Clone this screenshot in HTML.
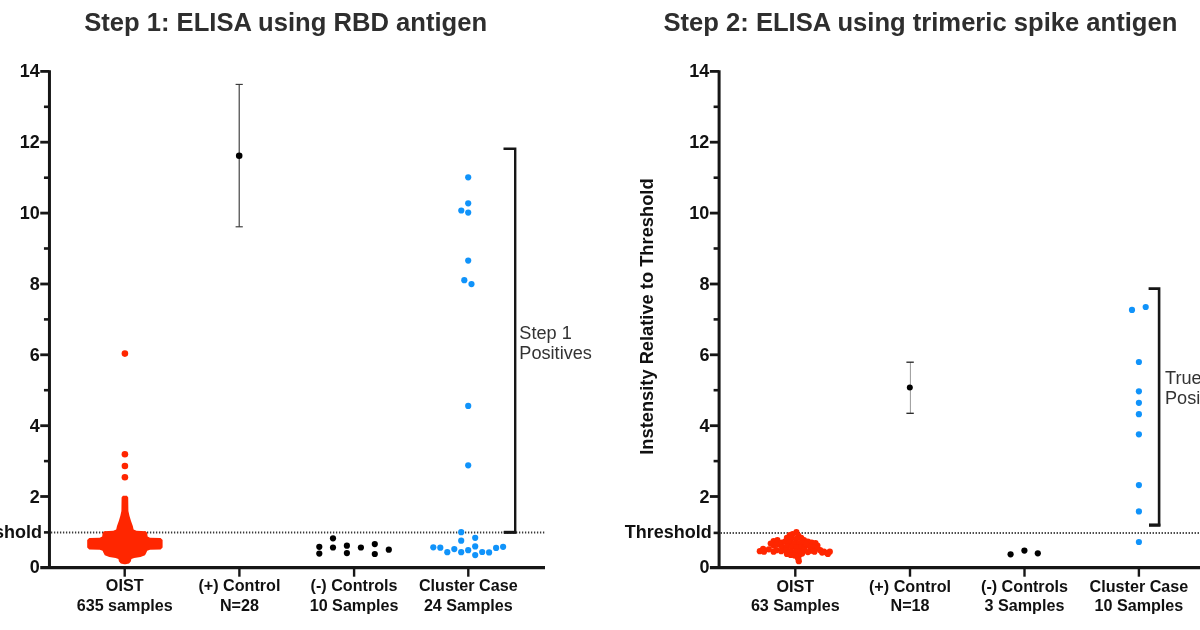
<!DOCTYPE html>
<html lang="en"><head><meta charset="utf-8"><title>ELISA two-step antibody test</title>
<style>html,body{margin:0;padding:0;background:#fff}body{width:1200px;height:630px;overflow:hidden}svg{display:block;will-change:transform;filter:blur(.45px)}text{font-family:"Liberation Sans",sans-serif}.t{font-weight:700;font-size:25.6px;fill:#2e2e2e;text-anchor:middle}.n{font-weight:700;font-size:18px;fill:#111;text-anchor:end}.c{font-weight:700;font-size:16.15px;fill:#111;text-anchor:middle}.a{font-size:18.15px;fill:#333}.yl{font-weight:700;font-size:18.3px;fill:#111;text-anchor:middle}</style></head><body>
<svg width="1200" height="630" viewBox="0 0 1200 630">
<rect width="1200" height="630" fill="#fff"/>
<text class="t" x="285.6" y="31.3">Step 1: ELISA using RBD antigen</text>
<text class="t" x="920.4" y="31.2">Step 2: ELISA using trimeric spike antigen</text>
<line x1="50.95" y1="532.4" x2="545" y2="532.4" stroke="#3a3a3a" stroke-width="2" stroke-dasharray="1.3 1.7"/>
<line x1="49.45" y1="70.2" x2="49.45" y2="568.7" stroke="#161616" stroke-width="3"/>
<line x1="40.25" y1="567.6" x2="545" y2="567.6" stroke="#161616" stroke-width="3.1"/>
<line x1="43.95" y1="532.4" x2="49.45" y2="532.4" stroke="#161616" stroke-width="2.6"/>
<line x1="40.25" y1="496.5" x2="49.45" y2="496.5" stroke="#161616" stroke-width="2.8"/>
<line x1="43.95" y1="461.1" x2="49.45" y2="461.1" stroke="#161616" stroke-width="2.6"/>
<line x1="40.25" y1="425.7" x2="49.45" y2="425.7" stroke="#161616" stroke-width="2.8"/>
<line x1="43.95" y1="390.2" x2="49.45" y2="390.2" stroke="#161616" stroke-width="2.6"/>
<line x1="40.25" y1="354.8" x2="49.45" y2="354.8" stroke="#161616" stroke-width="2.8"/>
<line x1="43.95" y1="319.4" x2="49.45" y2="319.4" stroke="#161616" stroke-width="2.6"/>
<line x1="40.25" y1="284.0" x2="49.45" y2="284.0" stroke="#161616" stroke-width="2.8"/>
<line x1="43.95" y1="248.5" x2="49.45" y2="248.5" stroke="#161616" stroke-width="2.6"/>
<line x1="40.25" y1="213.1" x2="49.45" y2="213.1" stroke="#161616" stroke-width="2.8"/>
<line x1="43.95" y1="177.7" x2="49.45" y2="177.7" stroke="#161616" stroke-width="2.6"/>
<line x1="40.25" y1="142.2" x2="49.45" y2="142.2" stroke="#161616" stroke-width="2.8"/>
<line x1="43.95" y1="106.8" x2="49.45" y2="106.8" stroke="#161616" stroke-width="2.6"/>
<line x1="40.25" y1="71.4" x2="49.45" y2="71.4" stroke="#161616" stroke-width="2.8"/>
<text class="n" x="39.75" y="573.4">0</text>
<text class="n" x="39.75" y="502.5">2</text>
<text class="n" x="39.75" y="431.7">4</text>
<text class="n" x="39.75" y="360.8">6</text>
<text class="n" x="39.75" y="290.0">8</text>
<text class="n" x="39.75" y="219.1">10</text>
<text class="n" x="39.75" y="148.2">12</text>
<text class="n" x="39.75" y="77.4">14</text>
<text class="n" style="font-size:18px" x="42.050000000000004" y="537.6">Threshold</text>
<line x1="124.7" y1="567.4" x2="124.7" y2="576.7" stroke="#161616" stroke-width="2.4"/>
<text class="c" x="124.7" y="590.6">OIST</text>
<text class="c" x="124.7" y="610.6">635 samples</text>
<line x1="239.4" y1="567.4" x2="239.4" y2="576.7" stroke="#161616" stroke-width="2.4"/>
<text class="c" x="239.4" y="590.6">(+) Control</text>
<text class="c" x="239.4" y="610.6">N=28</text>
<line x1="354.1" y1="567.4" x2="354.1" y2="576.7" stroke="#161616" stroke-width="2.4"/>
<text class="c" x="354.1" y="590.6">(-) Controls</text>
<text class="c" x="354.1" y="610.6">10 Samples</text>
<line x1="468.3" y1="567.4" x2="468.3" y2="576.7" stroke="#161616" stroke-width="2.4"/>
<text class="c" x="468.3" y="590.6">Cluster Case</text>
<text class="c" x="468.3" y="610.6">24 Samples</text>
<line x1="720.6" y1="532.9" x2="1200" y2="532.9" stroke="#3a3a3a" stroke-width="2" stroke-dasharray="1.3 1.7"/>
<line x1="719.1" y1="70.2" x2="719.1" y2="568.7" stroke="#161616" stroke-width="3"/>
<line x1="709.9" y1="567.6" x2="1200" y2="567.6" stroke="#161616" stroke-width="3.1"/>
<line x1="713.6" y1="532.9" x2="719.1" y2="532.9" stroke="#161616" stroke-width="2.6"/>
<line x1="709.9" y1="496.5" x2="719.1" y2="496.5" stroke="#161616" stroke-width="2.8"/>
<line x1="713.6" y1="461.1" x2="719.1" y2="461.1" stroke="#161616" stroke-width="2.6"/>
<line x1="709.9" y1="425.7" x2="719.1" y2="425.7" stroke="#161616" stroke-width="2.8"/>
<line x1="713.6" y1="390.2" x2="719.1" y2="390.2" stroke="#161616" stroke-width="2.6"/>
<line x1="709.9" y1="354.8" x2="719.1" y2="354.8" stroke="#161616" stroke-width="2.8"/>
<line x1="713.6" y1="319.4" x2="719.1" y2="319.4" stroke="#161616" stroke-width="2.6"/>
<line x1="709.9" y1="284.0" x2="719.1" y2="284.0" stroke="#161616" stroke-width="2.8"/>
<line x1="713.6" y1="248.5" x2="719.1" y2="248.5" stroke="#161616" stroke-width="2.6"/>
<line x1="709.9" y1="213.1" x2="719.1" y2="213.1" stroke="#161616" stroke-width="2.8"/>
<line x1="713.6" y1="177.7" x2="719.1" y2="177.7" stroke="#161616" stroke-width="2.6"/>
<line x1="709.9" y1="142.2" x2="719.1" y2="142.2" stroke="#161616" stroke-width="2.8"/>
<line x1="713.6" y1="106.8" x2="719.1" y2="106.8" stroke="#161616" stroke-width="2.6"/>
<line x1="709.9" y1="71.4" x2="719.1" y2="71.4" stroke="#161616" stroke-width="2.8"/>
<text class="n" x="709.4" y="573.4">0</text>
<text class="n" x="709.4" y="502.5">2</text>
<text class="n" x="709.4" y="431.7">4</text>
<text class="n" x="709.4" y="360.8">6</text>
<text class="n" x="709.4" y="290.0">8</text>
<text class="n" x="709.4" y="219.1">10</text>
<text class="n" x="709.4" y="148.2">12</text>
<text class="n" x="709.4" y="77.4">14</text>
<text class="n" style="font-size:18px" x="711.7" y="538.1">Threshold</text>
<line x1="795.3" y1="567.4" x2="795.3" y2="576.7" stroke="#161616" stroke-width="2.4"/>
<text class="c" x="795.3" y="591.6">OIST</text>
<text class="c" x="795.3" y="610.6">63 Samples</text>
<line x1="910" y1="567.4" x2="910" y2="576.7" stroke="#161616" stroke-width="2.4"/>
<text class="c" x="910" y="591.6">(+) Control</text>
<text class="c" x="910" y="610.6">N=18</text>
<line x1="1024.5" y1="567.4" x2="1024.5" y2="576.7" stroke="#161616" stroke-width="2.4"/>
<text class="c" x="1024.5" y="591.6">(-) Controls</text>
<text class="c" x="1024.5" y="610.6">3 Samples</text>
<line x1="1138.9" y1="567.4" x2="1138.9" y2="576.7" stroke="#161616" stroke-width="2.4"/>
<text class="c" x="1138.9" y="591.6">Cluster Case</text>
<text class="c" x="1138.9" y="610.6">10 Samples</text>
<text class="yl" transform="translate(653 316.6) rotate(-90)">Instensity Relative to Threshold</text>
<path fill="#FF2600" d="M126.9 495.7 L128.2 497.6 L128.4 511.0 L129.5 516.0 L131.0 521.0 L132.8 526.0 L133.6 529.4 L136.5 530.7 L145.8 531.2 L147.2 533.0 L147.6 536.4 L150.0 537.8 L160.6 538.0 L162.6 540.0 L162.6 547.6 L160.6 549.4 L150.0 549.7 L147.2 550.8 L146.2 553.0 L145.0 555.3 L140.5 557.0 L134.2 557.9 L131.4 559.0 L130.8 561.6 L129.0 563.6 L125.6 564.3 L124.2 564.3 L120.8 563.6 L119.0 561.6 L118.4 559.0 L115.6 557.9 L109.3 557.0 L104.8 555.3 L103.6 553.0 L102.6 550.8 L99.8 549.7 L89.2 549.4 L87.2 547.6 L87.2 540.0 L89.2 538.0 L99.8 537.8 L102.2 536.4 L102.6 533.0 L104.0 531.2 L113.3 530.7 L116.2 529.4 L117.0 526.0 L118.8 521.0 L120.3 516.0 L121.4 511.0 L121.6 497.6 L122.9 495.7 Z"/>
<g fill="#FF2600">
<circle cx="124.9" cy="353.6" r="3.3"/>
<circle cx="124.9" cy="454.2" r="3.3"/>
<circle cx="124.9" cy="466.0" r="3.3"/>
<circle cx="124.9" cy="477.2" r="3.3"/>
</g>
<g stroke="#333" stroke-width="1.1"><line x1="239.2" y1="84.4" x2="239.2" y2="226.8"/><line x1="235.6" y1="84.4" x2="242.8" y2="84.4"/><line x1="235.6" y1="226.8" x2="242.8" y2="226.8"/></g>
<g fill="#000">
<circle cx="239.2" cy="155.8" r="3.3"/>
</g>
<g fill="#000">
<circle cx="319.3" cy="546.8" r="3.1"/>
<circle cx="319.3" cy="553.6" r="3.1"/>
<circle cx="333.0" cy="538.3" r="3.1"/>
<circle cx="333.0" cy="547.5" r="3.1"/>
<circle cx="346.9" cy="545.7" r="3.1"/>
<circle cx="346.9" cy="553.1" r="3.1"/>
<circle cx="360.9" cy="547.5" r="3.1"/>
<circle cx="374.8" cy="544.1" r="3.1"/>
<circle cx="374.8" cy="554.0" r="3.1"/>
<circle cx="388.8" cy="549.7" r="3.1"/>
</g>
<g fill="#1093FA">
<circle cx="468.2" cy="177.3" r="3.1"/>
<circle cx="468.2" cy="203.3" r="3.1"/>
<circle cx="461.3" cy="210.5" r="3.1"/>
<circle cx="468.2" cy="212.6" r="3.1"/>
<circle cx="468.2" cy="260.6" r="3.1"/>
<circle cx="464.3" cy="280.2" r="3.1"/>
<circle cx="471.5" cy="284.1" r="3.1"/>
<circle cx="468.2" cy="405.9" r="3.1"/>
<circle cx="468.2" cy="465.3" r="3.1"/>
<circle cx="461.2" cy="532.2" r="3.1"/>
<circle cx="461.2" cy="540.7" r="3.1"/>
<circle cx="475.2" cy="537.8" r="3.1"/>
<circle cx="475.2" cy="546.4" r="3.1"/>
<circle cx="475.2" cy="555.1" r="3.1"/>
<circle cx="433.3" cy="547.3" r="3.1"/>
<circle cx="440.3" cy="547.7" r="3.1"/>
<circle cx="447.3" cy="552.2" r="3.1"/>
<circle cx="454.3" cy="549.1" r="3.1"/>
<circle cx="461.2" cy="552.2" r="3.1"/>
<circle cx="468.2" cy="550.2" r="3.1"/>
<circle cx="482.2" cy="552.0" r="3.1"/>
<circle cx="489.1" cy="552.4" r="3.1"/>
<circle cx="496.1" cy="547.9" r="3.1"/>
<circle cx="503.1" cy="546.8" r="3.1"/>
</g>
<path d="M503.5 148.8 H515.2 V532.3 H503.8" fill="none" stroke="#161616" stroke-width="2.4"/>
<line x1="503.8" y1="532.3" x2="516.3" y2="532.3" stroke="#161616" stroke-width="3"/>
<text class="a" x="519.3" y="339">Step 1</text>
<text class="a" x="519.3" y="359.3">Positives</text>
<g fill="#FF2600">
<circle cx="759.8" cy="551.2" r="3.1"/>
<circle cx="764.0" cy="551.7" r="3.1"/>
<circle cx="768.8" cy="549.3" r="3.1"/>
<circle cx="773.6" cy="551.7" r="3.1"/>
<circle cx="776.4" cy="550.2" r="3.1"/>
<circle cx="763.1" cy="548.8" r="3.1"/>
<circle cx="773.6" cy="541.2" r="3.1"/>
<circle cx="777.4" cy="540.2" r="3.1"/>
<circle cx="773.6" cy="545.5" r="3.1"/>
<circle cx="778.3" cy="544.5" r="3.1"/>
<circle cx="781.7" cy="542.6" r="3.1"/>
<circle cx="782.1" cy="547.4" r="3.1"/>
<circle cx="781.2" cy="551.2" r="3.1"/>
<circle cx="770.7" cy="543.6" r="3.1"/>
<circle cx="796.4" cy="532.1" r="3.1"/>
<circle cx="792.6" cy="534.0" r="3.1"/>
<circle cx="789.8" cy="535.0" r="3.1"/>
<circle cx="798.3" cy="535.5" r="3.1"/>
<circle cx="786.9" cy="537.9" r="3.1"/>
<circle cx="791.7" cy="538.3" r="3.1"/>
<circle cx="796.4" cy="538.8" r="3.1"/>
<circle cx="801.2" cy="537.9" r="3.1"/>
<circle cx="804.0" cy="540.2" r="3.1"/>
<circle cx="785.0" cy="541.7" r="3.1"/>
<circle cx="789.8" cy="542.6" r="3.1"/>
<circle cx="794.5" cy="543.1" r="3.1"/>
<circle cx="799.3" cy="543.1" r="3.1"/>
<circle cx="804.0" cy="543.6" r="3.1"/>
<circle cx="786.9" cy="546.4" r="3.1"/>
<circle cx="791.7" cy="546.9" r="3.1"/>
<circle cx="796.4" cy="547.4" r="3.1"/>
<circle cx="801.2" cy="547.4" r="3.1"/>
<circle cx="805.0" cy="546.4" r="3.1"/>
<circle cx="786.0" cy="550.2" r="3.1"/>
<circle cx="790.7" cy="551.2" r="3.1"/>
<circle cx="795.5" cy="551.7" r="3.1"/>
<circle cx="800.2" cy="551.2" r="3.1"/>
<circle cx="804.0" cy="549.8" r="3.1"/>
<circle cx="786.9" cy="554.0" r="3.1"/>
<circle cx="790.7" cy="555.0" r="3.1"/>
<circle cx="794.5" cy="555.5" r="3.1"/>
<circle cx="799.3" cy="555.0" r="3.1"/>
<circle cx="802.1" cy="553.6" r="3.1"/>
<circle cx="798.3" cy="558.8" r="3.1"/>
<circle cx="798.8" cy="561.2" r="3.1"/>
<circle cx="797.4" cy="556.9" r="3.1"/>
<circle cx="807.9" cy="541.7" r="3.1"/>
<circle cx="811.7" cy="542.6" r="3.1"/>
<circle cx="815.5" cy="543.1" r="3.1"/>
<circle cx="817.4" cy="545.5" r="3.1"/>
<circle cx="809.8" cy="546.4" r="3.1"/>
<circle cx="813.6" cy="547.4" r="3.1"/>
<circle cx="817.4" cy="548.3" r="3.1"/>
<circle cx="810.7" cy="550.7" r="3.1"/>
<circle cx="814.5" cy="551.7" r="3.1"/>
<circle cx="820.2" cy="550.2" r="3.1"/>
<circle cx="824.0" cy="551.7" r="3.1"/>
<circle cx="826.9" cy="553.1" r="3.1"/>
<circle cx="829.8" cy="551.7" r="3.1"/>
<circle cx="827.9" cy="554.0" r="3.1"/>
<circle cx="807.9" cy="552.1" r="3.1"/>
<circle cx="806.0" cy="543.6" r="3.1"/>
<circle cx="822.1" cy="552.6" r="3.1"/>
</g>
<g stroke="#999" stroke-width="1"><line x1="910.4" y1="362.2" x2="910.4" y2="413.3"/></g>
<g stroke="#222" stroke-width="1.3"><line x1="906.4" y1="362.2" x2="913.8" y2="362.2"/><line x1="906.4" y1="413.3" x2="913.8" y2="413.3"/></g>
<g fill="#000">
<circle cx="909.8" cy="387.6" r="3.0"/>
</g>
<g fill="#000">
<circle cx="1010.6" cy="554.3" r="3.1"/>
<circle cx="1024.4" cy="550.6" r="3.1"/>
<circle cx="1037.8" cy="553.3" r="3.1"/>
</g>
<g fill="#1093FA">
<circle cx="1132.0" cy="309.9" r="3.1"/>
<circle cx="1145.7" cy="307.0" r="3.1"/>
<circle cx="1138.9" cy="362.0" r="3.1"/>
<circle cx="1138.9" cy="391.3" r="3.1"/>
<circle cx="1138.9" cy="402.8" r="3.1"/>
<circle cx="1138.9" cy="414.2" r="3.1"/>
<circle cx="1138.9" cy="434.3" r="3.1"/>
<circle cx="1138.9" cy="485.1" r="3.1"/>
<circle cx="1138.9" cy="511.4" r="3.1"/>
<circle cx="1138.9" cy="542.0" r="3.1"/>
</g>
<path d="M1148.6 288.6 H1159.1 V525.1 H1149" fill="none" stroke="#161616" stroke-width="2.6"/>
<line x1="1149" y1="525.1" x2="1160.4" y2="525.1" stroke="#161616" stroke-width="3"/>
<text class="a" x="1165" y="384.3">True</text>
<text class="a" x="1165" y="403.9">Positives</text>
</svg></body></html>
